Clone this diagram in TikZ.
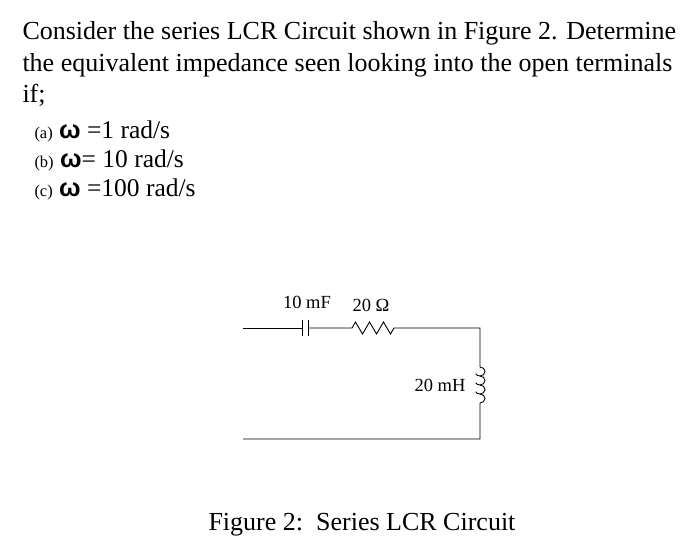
\documentclass[tikz,border=0pt]{standalone}
\usepackage{fontspec}
\setmainfont{Liberation Serif}
\newfontfamily\omf{Liberation Sans}
\begin{document}
\begin{tikzpicture}[x=1pt,y=-1pt,line width=1pt,
 txt/.style={anchor=base west,inner sep=0pt,font=\fontsize{26}{30}\selectfont},
 itm/.style={anchor=base west,inner sep=0pt,font=\fontsize{25.5}{30}\selectfont},
 lab/.style={inner sep=0pt,font=\fontsize{18.5}{21}\selectfont}]
\useasboundingbox (0,0) rectangle (700,549);
\newcommand\om{{\omf\bfseries ω}}
\node[txt] (l1) at (22,39) {Consider the series LCR Circuit shown in Figure 2. Determine};
\node[txt] (l2) at (22,71) {the equivalent impedance seen looking into the open terminals};
\node[txt] (l3) at (22,102) {if;};
\node[itm] (a) at (34,138) {{\fontsize{16.5}{19}\selectfont(a)} \om{} =1 rad/s};
\node[itm] (b) at (34,167) {{\fontsize{16.5}{19}\selectfont(b)} \om= 10 rad/s};
\node[itm] (c) at (34,196) {{\fontsize{16.5}{19}\selectfont(c)} \om{} =100 rad/s};
\node[txt] (cap) at (208,530) {Figure 2:\ \ Series LCR Circuit};
% circuit
\coordinate (tl) at (243,328);
\coordinate (c1) at (302,328);
\coordinate (c2) at (308,328);
\coordinate (r1) at (352,328);
\coordinate (r2) at (394,328);
\coordinate (tr) at (480,328);
\coordinate (i1) at (480,367);
\coordinate (i2) at (480,403);
\coordinate (br) at (480,439);
\coordinate (bl) at (243,439);
\draw[line width=0.9pt] (tl) -- (c1) (c1)++(0,-8) -- ++(0,16) (c2)++(0,-8) -- ++(0,16);
\draw[line width=0.9pt] (c2) -- (r1) -- ++(3.5,-6) -- ++(7,12) -- ++(7,-12) -- ++(7,12) -- ++(7,-12) -- ++(7,12) -- (r2) -- (tr) -- (i1);
\draw[line width=0.9pt] (i1) arc (-90:150:5 and 4.5);
\draw[line width=0.9pt] (480,376) arc (-90:150:5 and 4.5);
\draw[line width=0.9pt] (480,385) arc (-90:150:5 and 4.5);
\draw[line width=0.9pt] (480,394) arc (-90:90:5 and 4.5) -- (i2) -- (br) -- (bl);
\node[lab] (lc) at (307,302) {10 mF};
\node[lab] (lr) at (371,305) {20 Ω};
\node[lab] (ll) at (440,385) {20 mH};
\end{tikzpicture}
\end{document}
